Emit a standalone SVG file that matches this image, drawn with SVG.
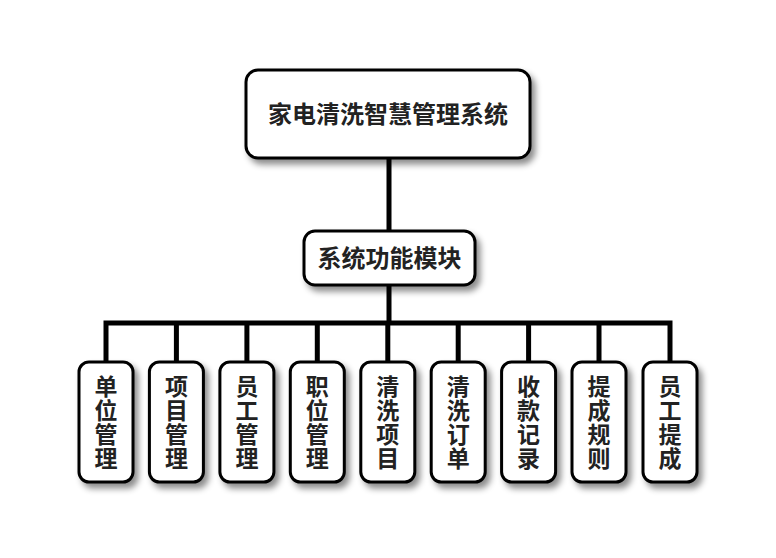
<svg xmlns="http://www.w3.org/2000/svg" width="776" height="558" viewBox="0 0 776 558">
<defs>
<filter id="sh" x="-30%" y="-30%" width="160%" height="160%">
<feDropShadow dx="4" dy="5" stdDeviation="3" flood-color="#000" flood-opacity="0.45"/>
</filter>
<style>
.box{fill:#fff;stroke:#000;stroke-width:3;filter:url(#sh)}
.t{font-family:"Liberation Sans","Noto Sans CJK SC",sans-serif;font-weight:bold;fill:#222;text-anchor:middle}
.big{font-size:24px}
.leaf{font-size:23px}
.c{stroke:#000;stroke-width:5;fill:none}
</style>
</defs>
<rect width="776" height="558" fill="#fff"/>
<g id="connectors">
<path class="c" d="M389 158V231M389 284V323M106 362V323H670V362M176.4 323V362M246.9 323V362M317.3 323V362M387.8 323V362M458.2 323V362M528.6 323V362M599 323V362"/>
</g>
<g id="root"><rect class="box" x="246" y="70" width="284" height="88" rx="12"/><text class="t big" x="388" y="123">家电清洗智慧管理系统</text></g>
<g id="module"><rect class="box" x="304" y="231" width="171" height="54" rx="11"/><text class="t big" x="389.5" y="267">系统功能模块</text></g>
<g id="n1"><rect class="box" x="79" y="362" width="54" height="120" rx="10"/><text class="t leaf" x="106"><tspan x="106" y="395">单</tspan><tspan x="106" y="419">位</tspan><tspan x="106" y="443">管</tspan><tspan x="106" y="467">理</tspan></text></g>
<g id="n2"><rect class="box" x="149.4" y="362" width="54" height="120" rx="10"/><text class="t leaf"><tspan x="176.4" y="395">项</tspan><tspan x="176.4" y="419">目</tspan><tspan x="176.4" y="443">管</tspan><tspan x="176.4" y="467">理</tspan></text></g>
<g id="n3"><rect class="box" x="219.9" y="362" width="54" height="120" rx="10"/><text class="t leaf"><tspan x="246.9" y="395">员</tspan><tspan x="246.9" y="419">工</tspan><tspan x="246.9" y="443">管</tspan><tspan x="246.9" y="467">理</tspan></text></g>
<g id="n4"><rect class="box" x="290.3" y="362" width="54" height="120" rx="10"/><text class="t leaf"><tspan x="317.3" y="395">职</tspan><tspan x="317.3" y="419">位</tspan><tspan x="317.3" y="443">管</tspan><tspan x="317.3" y="467">理</tspan></text></g>
<g id="n5"><rect class="box" x="360.8" y="362" width="54" height="120" rx="10"/><text class="t leaf"><tspan x="387.8" y="395">清</tspan><tspan x="387.8" y="419">洗</tspan><tspan x="387.8" y="443">项</tspan><tspan x="387.8" y="467">目</tspan></text></g>
<g id="n6"><rect class="box" x="431.2" y="362" width="54" height="120" rx="10"/><text class="t leaf"><tspan x="458.2" y="395">清</tspan><tspan x="458.2" y="419">洗</tspan><tspan x="458.2" y="443">订</tspan><tspan x="458.2" y="467">单</tspan></text></g>
<g id="n7"><rect class="box" x="501.6" y="362" width="54" height="120" rx="10"/><text class="t leaf"><tspan x="528.6" y="395">收</tspan><tspan x="528.6" y="419">款</tspan><tspan x="528.6" y="443">记</tspan><tspan x="528.6" y="467">录</tspan></text></g>
<g id="n8"><rect class="box" x="572" y="362" width="54" height="120" rx="10"/><text class="t leaf"><tspan x="599" y="395">提</tspan><tspan x="599" y="419">成</tspan><tspan x="599" y="443">规</tspan><tspan x="599" y="467">则</tspan></text></g>
<g id="n9"><rect class="box" x="643" y="362" width="54" height="120" rx="10"/><text class="t leaf"><tspan x="670" y="395">员</tspan><tspan x="670" y="419">工</tspan><tspan x="670" y="443">提</tspan><tspan x="670" y="467">成</tspan></text></g>
</svg>
